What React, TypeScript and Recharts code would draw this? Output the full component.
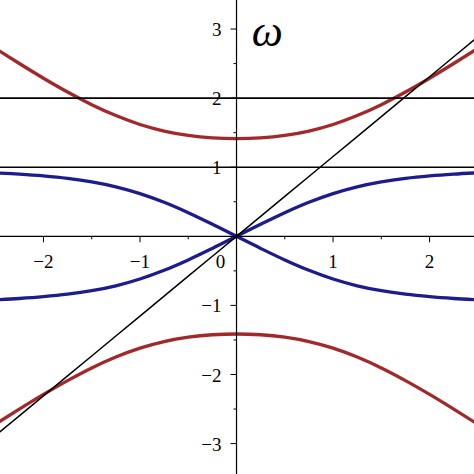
import React from "react";
import { LineChart, Line, XAxis, YAxis, ReferenceLine, ReferenceDot } from "recharts";

// wave number k
const kValues = [-2.5, -2.25, -2, -1.75, -1.5, -1.25, -1, -0.75, -0.5, -0.25, 0, 0.25, 0.5, 0.75, 1, 1.25, 1.5, 1.75, 2, 2.25, 2.5];
// upper branch (red), mirrored below
const upperRed = [2.721, 2.501, 2.288, 2.088, 1.905, 1.747, 1.618, 1.523, 1.46, 1.425, 1.414, 1.425, 1.46, 1.523, 1.618, 1.747, 1.905, 2.088, 2.288, 2.501, 2.721];
const lowerRed = [-2.721, -2.501, -2.288, -2.088, -1.905, -1.747, -1.618, -1.523, -1.46, -1.425, -1.414, -1.425, -1.46, -1.523, -1.618, -1.747, -1.905, -2.088, -2.288, -2.501, -2.721];
// lower branch (blue), two crossing curves
const blueRising = [-0.919, -0.9, -0.874, -0.838, -0.787, -0.716, -0.618, -0.492, -0.342, -0.175, 0, 0.175, 0.342, 0.492, 0.618, 0.716, 0.787, 0.838, 0.874, 0.9, 0.919];
const blueFalling = [0.919, 0.9, 0.874, 0.838, 0.787, 0.716, 0.618, 0.492, 0.342, 0.175, 0, -0.175, -0.342, -0.492, -0.618, -0.716, -0.787, -0.838, -0.874, -0.9, -0.919];
// straight black line through the origin
const diagonal = [-2.887, -2.598, -2.309, -2.021, -1.732, -1.443, -1.155, -0.866, -0.577, -0.289, 0, 0.289, 0.577, 0.866, 1.155, 1.443, 1.732, 2.021, 2.309, 2.598, 2.887];

const levelLines = [1, 2];
const xMajorTicks = [-2, -1, 1, 2];
const xMajorLabels = ["\u22122", "\u22121", "1", "2"];
const xMinorTicks = [-1.5, -0.5, 0.5, 1.5];
const yMajorTicks = [3, 2, 1, -1, -2, -3];
const yMajorLabels = ["3", "2", "1", "\u22121", "\u22122", "\u22123"];
const yMinorTicks = [2.5, 1.5, 0.5, -0.5, -1.5, -2.5];

const rows = kValues.map((k, i) => ({
	k,
	upperRed: upperRed[i],
	lowerRed: lowerRed[i],
	blueRising: blueRising[i],
	blueFalling: blueFalling[i],
	diagonal: diagonal[i],
}));

const FONT = "Liberation Serif, Times New Roman, DejaVu Serif, serif";
const RED = "#a3282a";
const BLUE = "#1c1c8c";

const xTickShape = (len: number, label?: string, shift = 0) => (p: any) => (
	<g>
		<line x1={p.cx} y1={p.cy} x2={p.cx} y2={p.cy + len} stroke='#000' strokeWidth={1} />
		{label !== undefined && (
			<text x={p.cx + shift} y={p.cy + 32} textAnchor='middle' style={{ fontFamily: FONT, fontSize: 19 }} fill='#000'>
				{label}
			</text>
		)}
	</g>
);

const yTickShape = (len: number, label?: string) => (p: any) => (
	<g>
		<line x1={p.cx - len} y1={p.cy} x2={p.cx} y2={p.cy} stroke='#000' strokeWidth={1} />
		{label !== undefined && (
			<text x={p.cx - 15} y={p.cy + 7} textAnchor='end' style={{ fontFamily: FONT, fontSize: 19 }} fill='#000'>
				{label}
			</text>
		)}
	</g>
);

const omegaShape = (p: any) => (
	<text x={p.cx} y={p.cy + 11} textAnchor='middle' style={{ fontFamily: FONT, fontStyle: "italic", fontSize: 44 }} fill='#000'>
		ω
	</text>
);

export default function App() {
	return (
		<div style={{ position: "absolute", left: 0, top: 0, width: 474, height: 474, background: "#fff" }}>
			<LineChart width={474} height={474} data={rows} margin={{ top: 0, right: 0, bottom: 0, left: 0 }}>
				<XAxis type='number' dataKey='k' domain={[-2.45, 2.46]} allowDataOverflow hide />
				<YAxis type='number' domain={[-3.44, 3.42]} allowDataOverflow hide />

				<Line type='monotone' dataKey='upperRed' stroke={RED} strokeWidth={3.3} dot={false} isAnimationActive={false} />
				<Line type='monotone' dataKey='lowerRed' stroke={RED} strokeWidth={3.3} dot={false} isAnimationActive={false} />
				<Line type='monotone' dataKey='blueRising' stroke={BLUE} strokeWidth={3.3} dot={false} isAnimationActive={false} />
				<Line type='monotone' dataKey='blueFalling' stroke={BLUE} strokeWidth={3.3} dot={false} isAnimationActive={false} />
				<Line type='linear' dataKey='diagonal' stroke='#000' strokeWidth={1.5} dot={false} isAnimationActive={false} />

				{levelLines.map((v) => (
					<ReferenceLine key={"lvl" + v} y={v} stroke='#000' strokeWidth={1.6} />
				))}
				<ReferenceLine x={0} stroke='#000' strokeWidth={1.2} />
				<ReferenceLine y={0} stroke='#000' strokeWidth={1.2} />

				{xMajorTicks.map((v, i) => (
					<ReferenceDot key={"xM" + v} x={v} y={0} r={0} shape={xTickShape(6, xMajorLabels[i])} />
				))}
				{xMinorTicks.map((v) => (
					<ReferenceDot key={"xm" + v} x={v} y={0} r={0} shape={xTickShape(3)} />
				))}
				<ReferenceDot x={0} y={0} r={0} shape={xTickShape(0, "0", -16)} />
				{yMajorTicks.map((v, i) => (
					<ReferenceDot key={"yM" + v} x={0} y={v} r={0} shape={yTickShape(6, yMajorLabels[i])} />
				))}
				{yMinorTicks.map((v) => (
					<ReferenceDot key={"ym" + v} x={0} y={v} r={0} shape={yTickShape(3)} />
				))}
				<ReferenceDot x={0.32} y={2.92} r={0} shape={omegaShape} />
			</LineChart>
		</div>
	);
}
